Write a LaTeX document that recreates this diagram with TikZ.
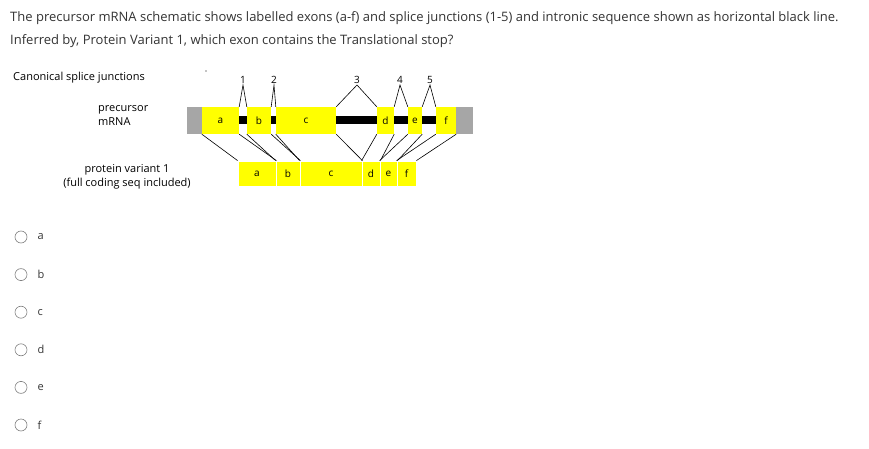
\documentclass[tikz,border=0pt]{standalone}
\usepackage{fontspec}
\setmainfont{Open Sans}
\usepackage{tikz}
\usetikzlibrary{positioning}

\definecolor{exonyellow}{HTML}{FFFF00}
\definecolor{capgray}{HTML}{A6A6A6}
\definecolor{qtext}{HTML}{333333}

\begin{document}
\begin{tikzpicture}[x=1pt, y=-1pt,
                exon/.style={fill=exonyellow, inner sep=0pt, minimum height=27pt, font=\fontsize{10}{11}\selectfont},
                vexon/.style={exon, draw=white, line width=0.8pt, minimum height=25pt},
                capbox/.style={fill=capgray, inner sep=0pt, minimum height=27pt},
                intron/.style={line width=8pt, black},
                link/.style={line width=0.6pt, black},
                junc/.style={font=\fontsize{10}{11}\selectfont, inner sep=1pt, anchor=south},
                lbl/.style={font=\fontsize{11}{14}\selectfont, inner sep=0pt, align=left},
                opt/.style={draw=gray, line width=0.6pt, circle, minimum size=12pt, inner sep=0pt}]
                \useasboundingbox (0,0) rectangle (869,449);

                % Question
                \node[anchor=west, text=qtext, font=\fontsize{13}{15}\selectfont, inner sep=0pt] (q1) at (10,18) {The precursor mRNA schematic shows labelled exons (a-f) and splice junctions (1-5) and intronic sequence shown as horizontal black line.};
                \node[anchor=west, text=qtext, font=\fontsize{13}{15}\selectfont, inner sep=0pt] (q2) at (10,41) {Inferred by, Protein Variant 1, which exon contains the Translational stop?};

                % Labels
                \node[lbl, anchor=west] (canon) at (13,78) {Canonical splice junctions};
                \node[lbl, anchor=west] (pre) at (98,116) {precursor\\mRNA};
                \node[lbl, align=center] (pv) at (127,177) {protein variant 1\\(full coding seq included)};

                % Precursor mRNA
                \node[capbox, minimum width=15pt] (gl) at (194.5,120.5) {};
                \node[exon, minimum width=37pt] (pa) at (220.5,120.5) {a};
                \node[exon, minimum width=24pt] (pb) at (259,120.5) {b};
                \node[exon, minimum width=60pt] (pc) at (306,120.5) {c};
                \node[exon, minimum width=17pt] (pd) at (385.5,120.5) {d};
                \node[exon, minimum width=14pt] (pe) at (415,120.5) {e};
                \node[exon, minimum width=20pt] (pf) at (446,120.5) {f};
                \node[capbox, minimum width=17pt] (gr) at (464.5,120.5) {};

                % Introns
                \draw[intron] (pa.east) -- (pb.west);
                \draw[intron] (pb.east) -- (pc.west);
                \draw[intron] (pc.east) -- (pd.west);
                \draw[intron] (pd.east) -- (pe.west);
                \draw[intron] (pe.east) -- (pf.west);

                % Protein variant 1
                \node[vexon, minimum width=38pt] (va) at (257,173.5) {a};
                \node[vexon, minimum width=24pt] (vb) at (288,173.5) {b};
                \node[vexon, minimum width=62pt] (vc) at (331,173.5) {c};
                \node[vexon, minimum width=18pt] (vd) at (371,173.5) {d};
                \node[vexon, minimum width=17pt] (ve) at (388.5,173.5) {e};
                \node[vexon, minimum width=19pt] (vf) at (406.5,173.5) {f};

                % Splice junctions
                \coordinate (j1) at (243,85);
                \coordinate (j2) at (274,85);
                \coordinate (j3) at (357,85);
                \coordinate (j4) at (400,85);
                \coordinate (j5) at (430,85);
                \draw[link] (pa.north east) -- (j1) -- (pb.north west);
                \draw[link] (pb.north east) -- (j2) -- (pc.north west);
                \draw[link] (pc.north east) -- (j3) -- (pd.north west);
                \draw[link] (pd.north east) -- (j4) -- (pe.north west);
                \draw[link] (pe.north east) -- (j5) -- (pf.north west);
                \node[junc] at (j1) {1};
                \node[junc] at (j2) {2};
                \node[junc] at (j3) {3};
                \node[junc] at (j4) {4};
                \node[junc] at (j5) {5};
                \fill (206,71) circle (0.7pt);

                % Exon mapping
                \draw[link] (pa.south west) -- (va.north west);
                \draw[link] (pa.south east) -- (va.north east);
                \draw[link] (pb.south west) -- (vb.north west);
                \draw[link] (pb.south east) -- (vb.north east);
                \draw[link] (pc.south west) -- (vc.north west);
                \draw[link] (pc.south east) -- (vc.north east);
                \draw[link] (pd.south west) -- (vd.north west);
                \draw[link] (pd.south east) -- (vd.north east);
                \draw[link] (pe.south west) -- (ve.north west);
                \draw[link] (pe.south east) -- (ve.north east);
                \draw[link] (pf.south west) -- (vf.north west);
                \draw[link] (pf.south east) -- (vf.north east);

                % Answer options
                \foreach \ch [count=\i from 0] in {a,b,c,d,e,f} {
                    \node[opt] (o\ch) at (21,237+37.6*\i) {};
                    \node[right=10pt of o\ch, inner sep=0pt, text=qtext, font=\fontsize{11}{13}\selectfont] (t\ch) {\ch};
                }
            \end{tikzpicture}
\end{document}
